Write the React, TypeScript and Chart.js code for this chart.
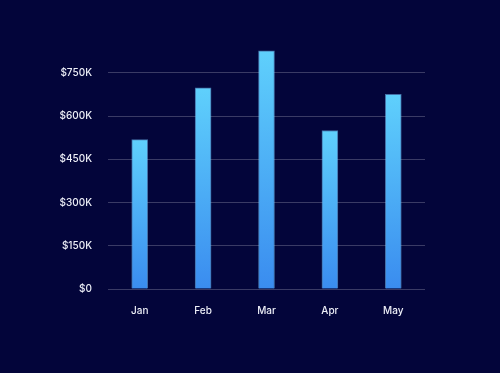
import React, { useEffect, useRef } from "react";
import { Chart, registerables } from "chart.js";

Chart.register(...registerables);

const months = ["Jan", "Feb", "Mar", "Apr", "May"];
const revenue = [518000, 698000, 826000, 550000, 675000];
const tickValues = [0, 150000, 300000, 450000, 600000, 750000];
const tickLabels = ["$0", "$150K", "$300K", "$450K", "$600K", "$750K"];

const BG = "#03053a";

export default function App() {
  const ref = useRef<HTMLCanvasElement | null>(null);

  useEffect(() => {
    document.body.style.margin = "0";
    document.body.style.background = BG;
    const canvas = ref.current;
    if (!canvas) return;
    const chart = new Chart(canvas, {
      type: "bar",
      data: {
        labels: months,
        datasets: [
          {
            data: revenue,
            backgroundColor: (ctx: any) => {
              const { chart } = ctx;
              const area = chart.chartArea;
              if (!area) return "#4fb4f8";
              const yScale = chart.scales.y;
              const top = yScale.getPixelForValue(revenue[ctx.dataIndex] ?? 0);
              const bottom = yScale.getPixelForValue(0);
              const g = chart.ctx.createLinearGradient(0, top, 0, bottom);
              g.addColorStop(0, "#5fd0fc");
              g.addColorStop(1, "#3a8cef");
              return g;
            },
            borderColor: "rgba(120,200,255,0.55)",
            borderWidth: 1,
            borderSkipped: "bottom",
            barThickness: 16,
          },
        ],
      },
      options: {
        responsive: false,
        animation: false,
        layout: { padding: { top: 44, right: 75, bottom: 0, left: 0 } },
        plugins: { legend: { display: false }, tooltip: { enabled: false } },
        scales: {
          x: {
            grid: { display: false, drawTicks: false },
            border: { display: false },
            ticks: {
              color: "#eef0f8",
              padding: 16,
              font: { family: "Inter", size: 10, weight: 500 },
            },
            afterFit: (s: any) => {
              s.height = 84;
            },
          },
          y: {
            min: 0,
            max: 850000,
            grid: { color: "rgba(255,255,255,0.22)", lineWidth: 1, drawTicks: false },
            border: { display: false },
            afterBuildTicks: (axis: any) => {
              axis.ticks = tickValues.map((v) => ({ value: v }));
            },
            ticks: {
              color: "#eef0f8",
              padding: 16,
              font: { family: "Inter", size: 10, weight: 500 },
              callback: (v: any) => {
                const i = tickValues.indexOf(Number(v));
                return i >= 0 ? tickLabels[i] : "";
              },
            },
            afterFit: (s: any) => {
              s.width = 108;
            },
          },
        },
      },
    } as any);
    return () => chart.destroy();
  }, []);

  return (
    <div style={{ width: 500, height: 373, background: BG }}>
      <canvas ref={ref} width={500} height={373} style={{ display: "block" }} />
    </div>
  );
}
